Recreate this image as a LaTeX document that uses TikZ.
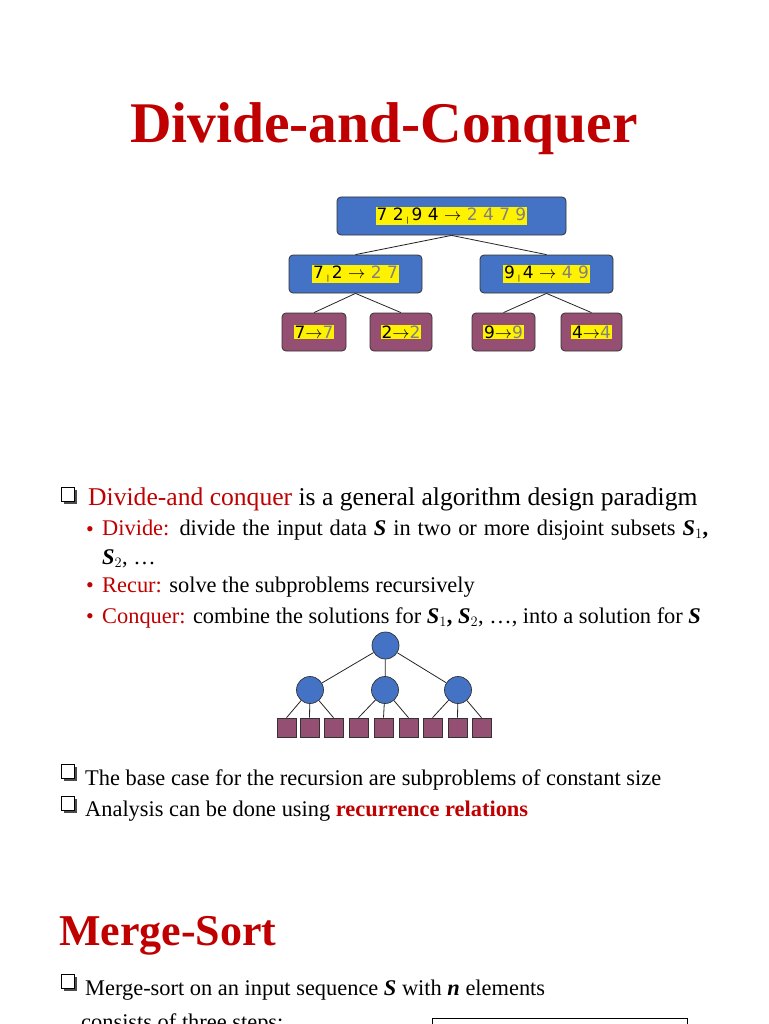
\documentclass[tikz,border=0pt]{standalone}
\usepackage{fontspec}
\setmainfont{Liberation Serif}
\newfontfamily\dv{DejaVu Sans}
\definecolor{tred}{HTML}{C00000}
\definecolor{bblue}{HTML}{4472C4}
\definecolor{plum}{HTML}{954F72}
\begin{document}
\begin{tikzpicture}[x=1pt,y=-1pt,
  bx/.style={draw=black!80,rounded corners=4pt,fill=bblue,line width=0.8pt},
  lf/.style={draw=black!80,rounded corners=4pt,fill=plum,line width=0.8pt},
  hl/.style={fill=yellow,inner sep=1pt,font=\dv\fontsize{17}{18}\selectfont},
  cir/.style={circle,draw=black!80,fill=bblue,minimum size=27pt,inner sep=0pt,line width=0.7pt},
  sq/.style={draw=black!80,fill=plum,minimum size=19pt,inner sep=0pt,line width=0.6pt},
  ln/.style={draw=black!85,line width=0.8pt},
  txt/.style={anchor=base west,inner sep=0pt},
  bul/.style={draw=black,line width=0.8pt}]
\useasboundingbox (0,0) rectangle (768,1024);
\fill[white] (0,0) rectangle (768,1024);
\node[anchor=base,inner sep=0pt,text=tred,font=\bfseries\fontsize{57.5}{60}\selectfont] (title) at (384,143) {Divide-and-Conquer};
% merge tree
\newcommand{\sep}{\,\raisebox{-.15ex}{\scriptsize|}\,}
\node[bx,minimum width=229pt,minimum height=38pt] (r) at (451.5,216) {};
\node[hl] at (r) {7 2\sep 9 4 $\rightarrow$ \textcolor{gray}{2 4 7 9}};
\node[bx,minimum width=133pt,minimum height=38pt] (m1) at (355.5,274) {};
\node[hl] at (m1) {7\sep 2 $\rightarrow$ \textcolor{gray}{2 7}};
\node[bx,minimum width=133pt,minimum height=38pt] (m2) at (546.5,274) {};
\node[hl] at (m2) {9\sep 4 $\rightarrow$ \textcolor{gray}{4 9}};
\node[lf,minimum width=64pt,minimum height=38pt] (l1) at (314,332) {};
\node[hl] at (l1) {7$\rightarrow$\textcolor{gray}{7}};
\node[lf,minimum width=62pt,minimum height=38pt] (l2) at (401,332) {};
\node[hl] at (l2) {2$\rightarrow$\textcolor{gray}{2}};
\node[lf,minimum width=63pt,minimum height=38pt] (l3) at (503.5,332) {};
\node[hl] at (l3) {9$\rightarrow$\textcolor{gray}{9}};
\node[lf,minimum width=61pt,minimum height=38pt] (l4) at (591.5,332) {};
\node[hl] at (l4) {4$\rightarrow$\textcolor{gray}{4}};
\draw[ln] (r.south) -- (m1.north); \draw[ln] (r.south) -- (m2.north);
\draw[ln] (m1.south) -- (l1.north); \draw[ln] (m1.south) -- (l2.north);
\draw[ln] (m2.south) -- (l3.north); \draw[ln] (m2.south) -- (l4.north);
% bullets
\newcommand{\qbox}[2]{\fill[black!70] (#1+2.5,#2-13) rectangle (#1+16,#2+0.5);
  \fill[white,draw=black,line width=0.7pt] (#1,#2-15.5) rectangle (#1+13.5,#2-2);}
\qbox{61}{503}
\node[txt,font=\fontsize{25.6}{28}\selectfont] (b1) at (88,505) {\textcolor{tred}{Divide-and conquer} is a general algorithm design paradigm};
\node[txt,text=tred,font=\fontsize{22}{24}\selectfont] (d1) at (86,536) {•};
\node[anchor=north west,inner sep=0pt,text width=606pt,align=justify,font=\fontsize{22.4}{29}\selectfont] (dv) at (102,519.5) {\textcolor{tred}{Divide:} divide the input data \textbf{\textit{S}} in two or more disjoint subsets \textbf{\textit{S}}$_1$\textbf{,}\linebreak \textbf{\textit{S}}$_2$, …};
\node[txt,text=tred,font=\fontsize{22}{24}\selectfont] (d2) at (86,592) {•};
\node[txt,font=\fontsize{22.4}{24}\selectfont] (rc) at (102,592) {\textcolor{tred}{Recur:} solve the subproblems recursively};
\node[txt,text=tred,font=\fontsize{22}{24}\selectfont] (d3) at (86,623) {•};
\node[txt,font=\fontsize{22.4}{24}\selectfont] (cq) at (102,623) {\textcolor{tred}{Conquer:} combine the solutions for \textbf{\textit{S}}$_1$\textbf{,} \textbf{\textit{S}}$_2$, …, into a solution for \textbf{\textit{S}}};
% recursion tree
\node[cir] (c0) at (385.5,645.5) {};
\node[cir] (c1) at (310,690) {};
\node[cir] (c2) at (385,690) {};
\node[cir] (c3) at (458,690) {};
\foreach \i/\x in {1/286.5,2/309.5,3/333.5,4/358.5,5/383.5,6/408.5,7/432.5,8/457.5,9/481.5}
  \node[sq] (s\i) at (\x,727.5) {};
\foreach \c in {1,2,3} \draw[ln] (c0) -- (c\c);
\foreach \s in {1,2,3} \draw[ln] (c1) -- (s\s.north);
\foreach \s in {4,5,6} \draw[ln] (c2) -- (s\s.north);
\foreach \s in {7,8,9} \draw[ln] (c3) -- (s\s.north);
\qbox{61}{780}
\node[txt,font=\fontsize{22.4}{24}\selectfont] (bc) at (85,785) {The base case for the recursion are subproblems of constant size};
\qbox{61}{812}
\node[txt,font=\fontsize{22.4}{24}\selectfont] (an) at (85,816) {Analysis can be done using \textcolor{tred}{\textbf{recurrence relations}}};
\node[txt,text=tred,font=\bfseries\fontsize{44}{46}\selectfont] (ms) at (59,945) {Merge-Sort};
\qbox{61}{990}
\node[txt,font=\fontsize{22.4}{24}\selectfont] (m1t) at (85,995) {Merge-sort on an input sequence \textbf{\textit{S}} with \textbf{\textit{n}} elements};
\node[txt,font=\fontsize{22.4}{24}\selectfont] (m2t) at (81,1029) {consists of three steps:};
\node[draw=black,line width=0.7pt,anchor=north west,minimum width=255pt,minimum height=40pt,inner sep=0pt] (alg) at (432,1017.5) {};
\node[txt,font=\fontsize{15}{16}\selectfont] (algt) at (437,1035) {\textbf{Algorithm} \textit{mergeSort}(\textit{S, C})};
\end{tikzpicture}
\end{document}
